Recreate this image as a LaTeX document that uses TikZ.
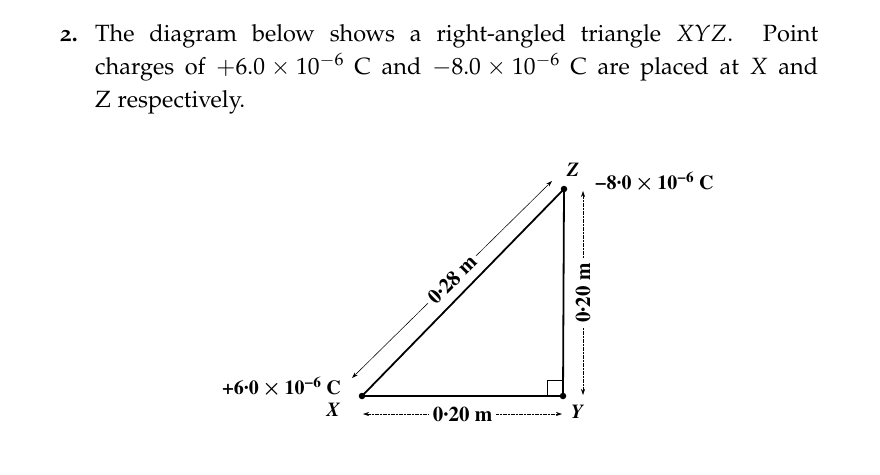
\documentclass[tikz,border=0pt]{standalone}
\usepackage[T1]{fontenc}
\usepackage[osf]{mathpazo}
\usetikzlibrary{positioning,arrows.meta}

\begin{document}
\begin{tikzpicture}[
  x=1pt, y=-1pt,
  charge/.style={
    circle, fill=black, inner sep=0pt,
    minimum size=6.5pt
  },
  side/.style={line width=1.8pt},
  dimline/.style={
    {Stealth[length=6pt,width=4pt]}-{Stealth[length=6pt,width=4pt]},
    line width=0.6pt, dash pattern=on 1.2pt off 0.4pt
  },
  dimlabel/.style={
    fill=white, inner xsep=4pt, inner ysep=1pt,
    font=\fontfamily{ptm}\fontsize{21}{21}\selectfont\bfseries
  },
  corner/.style={
    inner sep=0pt,
    font=\fontfamily{ptm}\fontsize{20}{20}\selectfont\bfseries\itshape
  },
  chargelabel/.style={
    inner sep=0pt,
    font=\fontfamily{ptm}\fontsize{20}{20}\selectfont\bfseries\boldmath
  }
]

\useasboundingbox (0,0) rectangle (880,474);

% =====================================================
% QUESTION TEXT
% =====================================================

\node[anchor=base west, inner sep=0pt,
      font=\fontsize{23.5}{33}\selectfont\bfseries] (num) at (60,41) {2.};

\node[anchor=base west, inner sep=0pt, text width=723pt, align=justify,
      font=\fontsize{23.5}{33}\selectfont] (question) at (95,41)
{The diagram below shows a right-angled triangle $XYZ$.\ \ Point\linebreak
charges of $+6.0\times10^{-6}$ C and $-8.0\times10^{-6}$ C are placed at $X$ and\linebreak
Z respectively.};

% =====================================================
% TRIANGLE
% =====================================================

\node[charge] (xdot) at (362,396) {};
\node[charge] (ydot) at (563,396) {};
\node[charge] (zdot) at (564,189) {};

\draw[side] (xdot.center) -- (ydot.center) -- (zdot.center) -- cycle;
\draw[line width=1pt] (ydot.center) ++(-16,0) -- ++(0,-16) -- ++(16,0);

\node[corner] (xlab) at (333,410) {X};
\node[corner] (ylab) at (577,412) {Y};
\node[corner] (zlab) at (573,170) {Z};

\node[chargelabel, anchor=east] (qx) at (341,387)
{+6\textperiodcentered0\,$\times$\,10\textsuperscript{\textminus6} C};
\node[chargelabel, anchor=west] (qz) at (595,182)
{\textminus8\textperiodcentered0\,$\times$\,10\textsuperscript{\textminus6} C};

% =====================================================
% DIMENSIONS
% =====================================================

\coordinate (hypa) at (352,378);
\coordinate (hypb) at (552,181);
\coordinate (basea) at (363,414);
\coordinate (baseb) at (562,414);
\coordinate (verta) at (583,395);
\coordinate (vertb) at (583,191);

\draw[dimline] (hypa) -- node[dimlabel, sloped] (hyplen) {0\textperiodcentered28 m} (hypb);
\draw[dimline] (basea) -- node[dimlabel] (baselen) {0\textperiodcentered20 m} (baseb);
\draw[dimline] (verta) -- node[dimlabel, sloped] (vertlen) {0\textperiodcentered20 m} (vertb);

\end{tikzpicture}
\end{document}
